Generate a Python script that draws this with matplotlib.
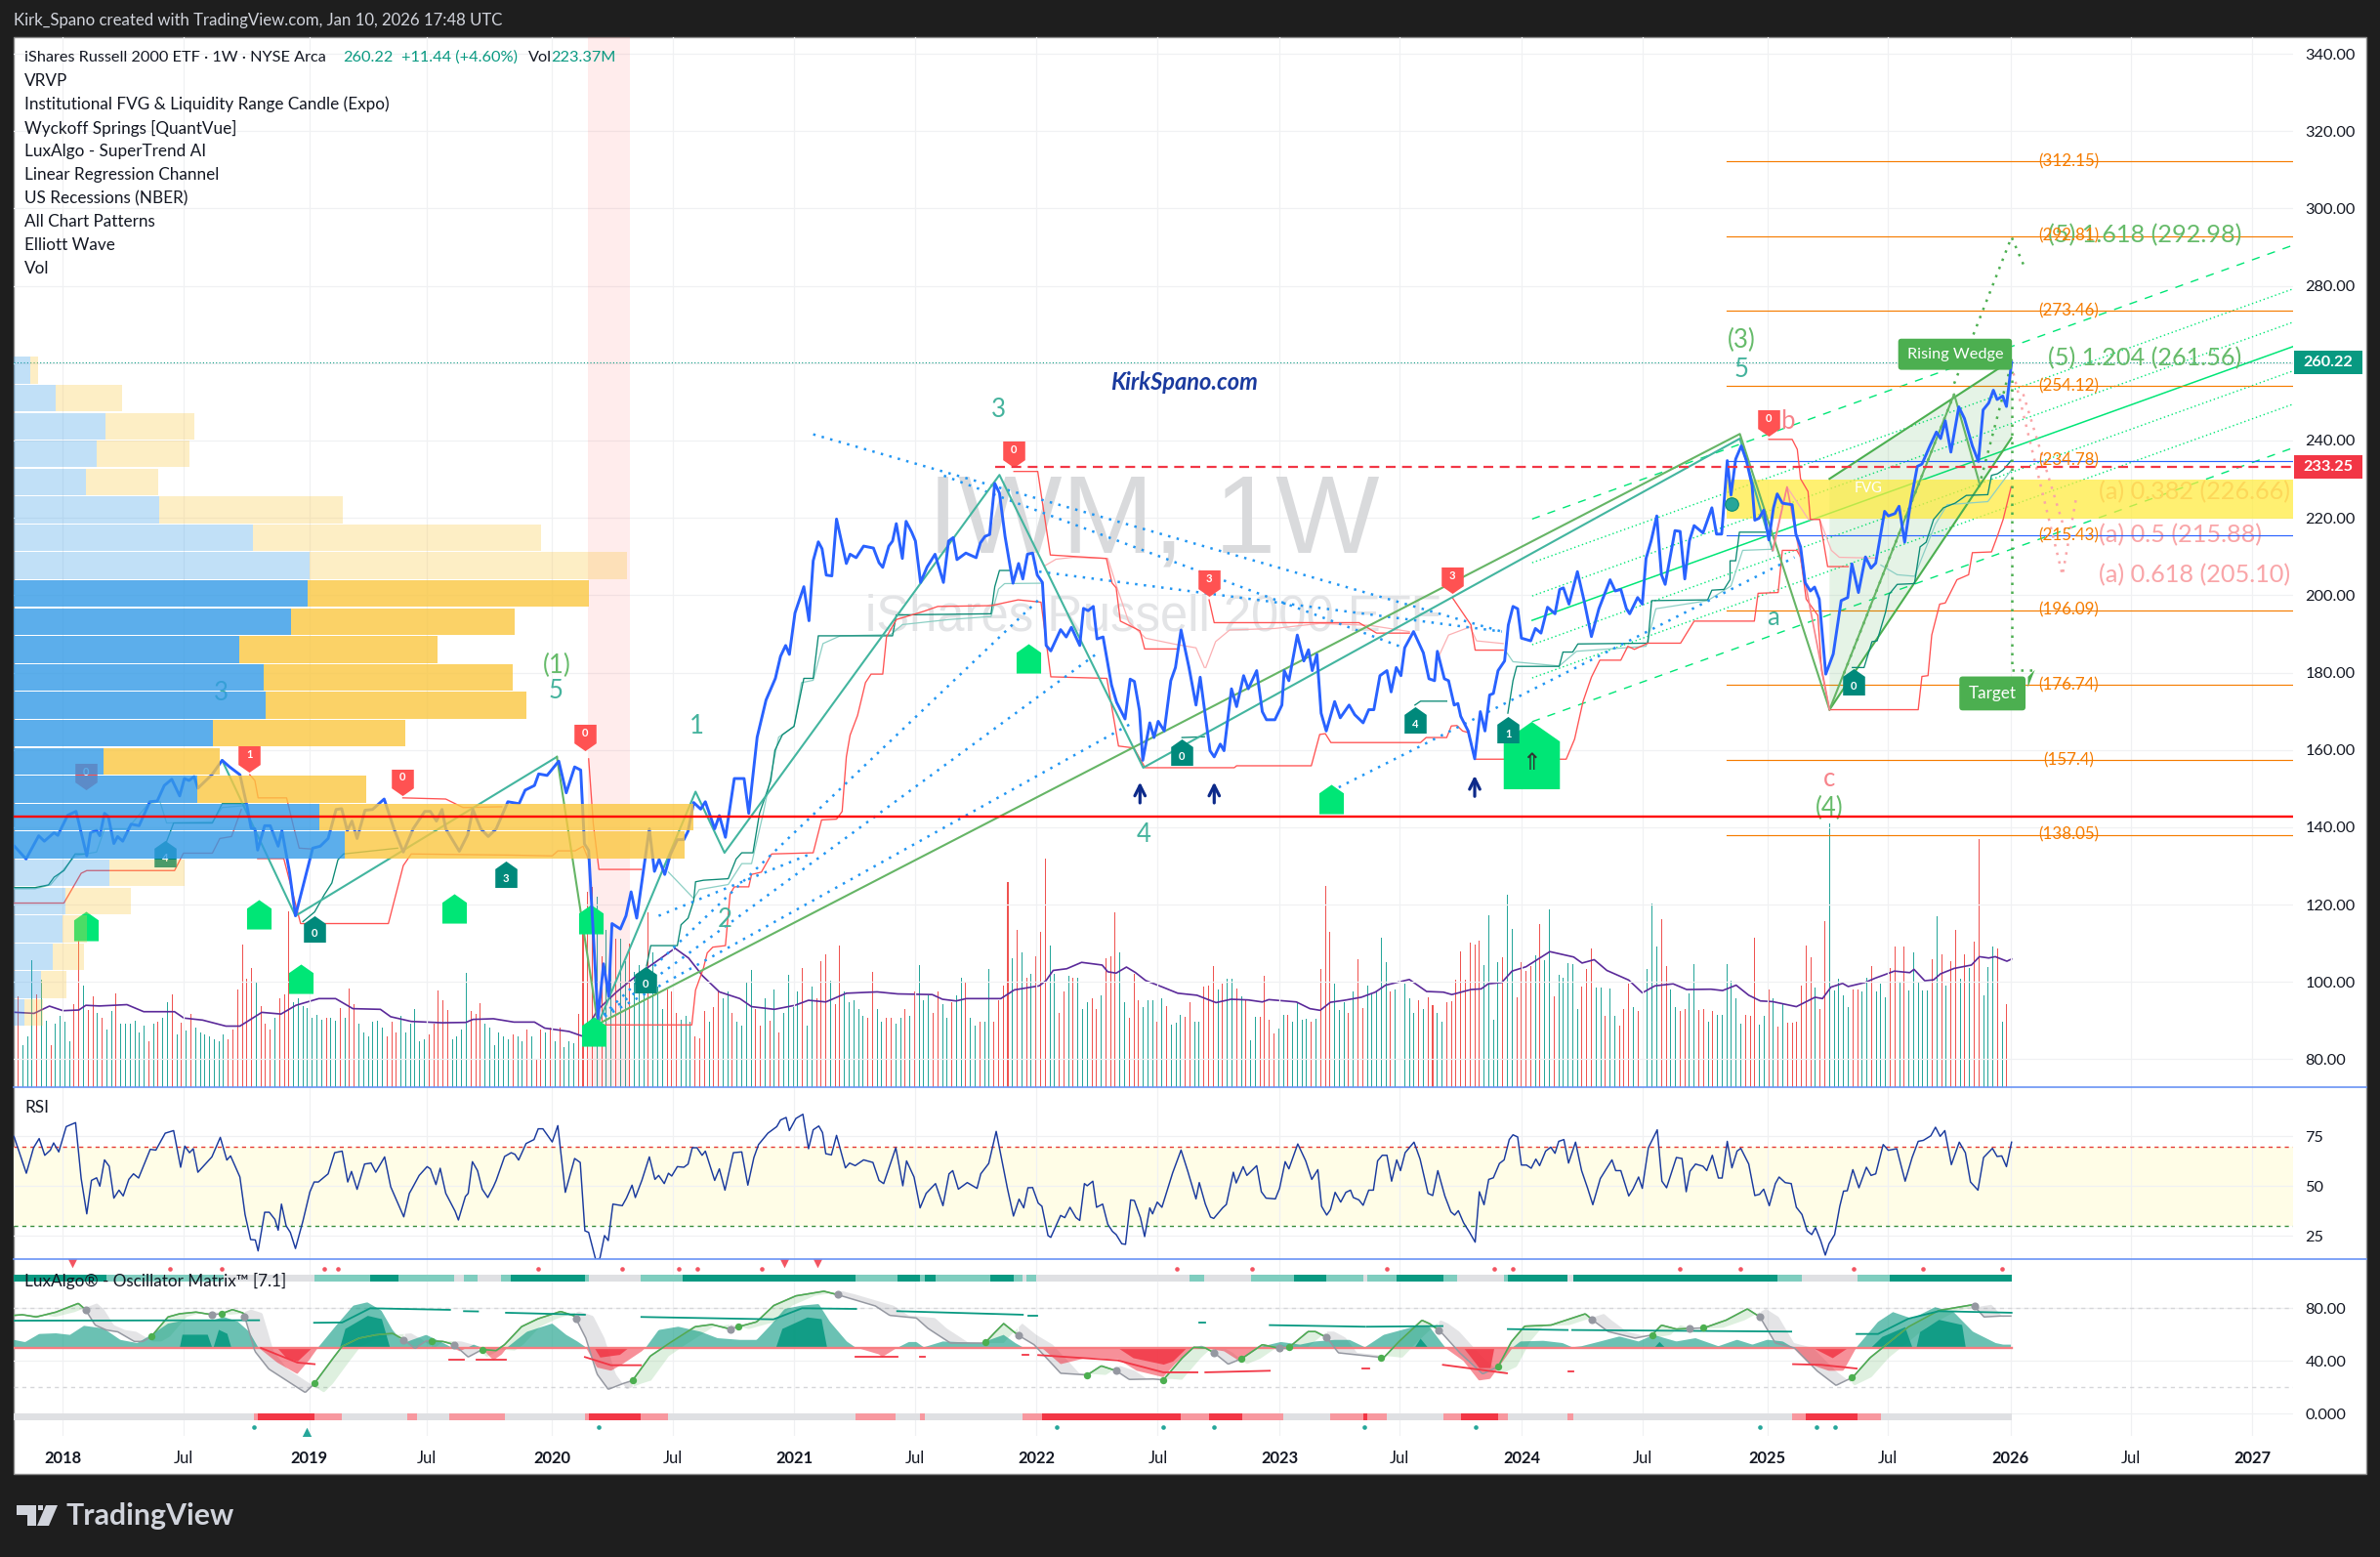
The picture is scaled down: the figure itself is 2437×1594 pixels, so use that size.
import numpy as np
import matplotlib
matplotlib.use("Agg")
import matplotlib.pyplot as plt
from matplotlib.path import Path
from matplotlib.patches import Rectangle, Polygon

plt.rcParams['font.family'] = ['Lato', 'DejaVu Sans']

W, H = 2437, 1594

# x axis is "weeks since Jan 2018"
tick_weeks = [0, 26.0, 52.9, 78.0, 104.8, 130.7, 156.7, 182.6, 208.6, 234.6, 260.7, 286.4, 312.6, 338.5, 365.2, 391.0, 417.3, 443.0, 469.0]
tick_names = ['2018', 'Jul', '2019', 'Jul', '2020', 'Jul', '2021', 'Jul', '2022', 'Jul', '2023', 'Jul', '2024', 'Jul', '2025', 'Jul', '2026', 'Jul', '2027']
price_ticks = list(range(80, 341, 20))

# weekly close (week, price)
price_points = [(-10.3,135.1),(-7.8,131.8),(-5.1,137.8),(-3.9,136.4),(-1.8,138.6),(-1,137.9),(1.1,143.1),(2.9,144.1),(5.2,132.6),(6,138.6),
(7.3,139.2),(8,137.8),(9,143.6),(9.8,142.8),(11,135.8),(11.8,137.6),(12.9,136.4),(14.7,140.8),(16.4,140.4),(18.7,146.6),(20.3,146.8),
(21.8,150.8),(23.4,152.4),(25.1,148.1),(26.1,152.6),(27.1,152.1),(28.2,153.1),(29,150.1),(32,153.6),(34.2,157.3),(35.8,155.6),(38,153.6),
(39.5,145.6),(40.4,139.8),(41.2,139.6),(41.8,134.1),(43.3,140.4),(44.5,140.4),(46.2,135.1),(47,139.1),(48.6,128.6),(49.9,117.1),(53.6,134.6),
(55.2,135.1),(56.9,137.1),(58.6,144.6),(59.8,144.8),(61,139.1),(62,141.6),(63.1,137.1),(64.8,144.4),(66.4,144.6),(68.9,147.3),(71,139.6),
(73,133.6),(75.1,139.6),(77.6,144.1),(78.8,144.1),(80.1,141.6),(81.3,144.6),(82.1,139.6),(85,133.8),(86.8,138.1),(87.9,144.6),(89.6,139.6),
(91.2,137.6),(92.9,139.6),(95.4,146.6),(97.8,146.1),(99.1,149.6),(101.1,150.8),(102,153.8),(103.8,153.4),(106.3,157.1),(107.9,148.9),(109.7,155.6),
(111,154.8),(111.8,135.7),(112.7,134),(114.7,90.6),(115.9,104.7),(117,96.3),(117.7,115.1),(119.5,113.7),(120.7,117.1),(121.8,123.3),(123,116.5),
(124.4,128.4),(125.7,139.6),(126.8,128.6),(127.8,131.7),(129,127.8),(130.2,132.9),(131.7,136.8),(133.1,136.8),(134,139),(135.2,146.4),(136.7,144.7),
(137.7,146.6),(139.7,139.6),(140.7,143),(142,137.4),(143.9,152.6),(146,152.6),(147,143.6),(148.8,163.3),(150.7,172.9),(152.7,178.5),(153.8,184.2),
(154.9,187),(155.7,184.7),(156.9,195.4),(158.8,202.2),(159.9,193.4),(160.8,208.9),(161.9,213.8),(162.7,212),(163.6,205.2),(164.8,205),(165.8,219.7),
(167.9,208.2),(168.7,210.6),(170,209.7),(171.6,212.7),(173.7,212.2),(174.9,208.4),(175.7,207.2),(177,212.7),(177.8,214),(178.6,218.5),(179.9,209.5),
(180.7,219.1),(181.9,216.3),(182.7,214),(183.8,203.3),(185.2,207.3),(186.9,210.6),(188.7,203.3),(189.8,214),(190.8,214.9),(191.6,209.2),(193.5,210.9),
(195.7,209.7),(196.6,213.5),(197.6,215.2),(198.6,215.7),(199.7,228.9),(200.7,226.4),(201.9,215.2),(203.6,203.1),(204.8,208.2),(205.7,204.2),(206.7,210.6),
(207.8,210.9),(208.8,205.2),(209.9,203.3),(210.7,187),(211.7,185.6),(213.8,191.1),(215,189.2),(216.1,191.7),(217.9,187),(218.7,196.6),(219.7,196),
(220.8,197.1),(221.6,188.7),(222.9,189.2),(224.7,176.8),(225.8,172.3),(227.6,168),(228.7,178.3),(229.6,177.7),(230.7,170.1),(231.4,157.3),(232.9,167),
(233.8,163.2),(234.7,167.4),(236,164.9),(237.4,177.9),(238.4,181.3),(239.6,191),(241.3,181.3),(242.8,171.6),(243.7,178.8),(245.8,159.8),(246.7,158.2),
(248,161.5),(248.8,159.8),(250.4,175.8),(251.5,171.2),(253,179.2),(254,175.8),(255.8,180.5),(257,169.9),(257.9,167.8),(259.7,167.8),(261.2,171.6),
(261.7,180.5),(262.7,177.9),(264.5,189.7),(265.9,183),(266.9,185.9),(267.7,180.5),(268.7,184.7),(269.6,169.5),(270.7,164.9),(272.5,172.5),(273.7,168.3),
(275.6,171.6),(276.8,169.1),(278.6,167),(279.8,170.4),(280.9,170.4),(282.2,179.2),(283.7,180.5),(284.6,175),(285.7,181.3),(286.7,179.2),(287.5,186.4),
(289.4,190.6),(291.5,185.1),(292.7,178.4),(293.9,177.9),(294.5,185.5),(296,178.4),(296.9,177.9),(298.1,171.6),(298.9,172),(299.5,168.7),(301.1,164.9),
(302.5,157.7),(303.7,169.9),(304.7,164.9),(305.7,174.2),(306.5,174.6),(307.5,180.5),(308.9,183),(309.7,192.3),(310.7,197.1),(311.7,196.5),(312.5,188.9),
(314.5,188.2),(315.5,191.4),(316.7,190.2),(318.1,196.9),(319.7,195.2),(320.7,201.5),(321.5,201.9),(322.7,197.7),(324.5,206.1),(326,198.2),(327.5,189.3),
(329.1,196.5),(331.5,204),(332.6,201.1),(333.8,201.5),(335,196.5),(335.7,195.2),(337.4,199.4),(338.4,197.7),(339.2,209.5),(340.3,214.1),(341.5,220.5),
(342.5,205.3),(343.3,202.8),(345.4,216.7),(346.5,216.5),(347.5,204.2),(348.5,214.1),(349.5,218),(351.4,216.1),(353.3,222.6),(354.3,215.8),(355.4,215.8),
(356.6,234.8),(357.4,225.9),(358.4,235.2),(359.6,238.6),(360.7,234.8),(361.9,228.5),(362.5,219.4),(363.4,219.9),(364.4,222),(365.5,214.3),(366.5,222.6),
(367.3,226.2),(368.4,223.8),(370.5,223.4),(371.3,215.8),(372.3,212.5),(373.3,203.2),(374.4,201.1),(375.3,202.1),(376.3,199),(377.7,179.6),(379.3,184.8),
(381,198.6),(382.4,199.4),(383.3,208.1),(384.7,200.7),(386.2,209.9),(387.4,207),(388.4,208.3),(390.3,221.7),(391.1,220.5),(392.5,221.1),(393.4,223),
(394.6,213.7),(395.9,224.2),(397.3,233.3),(398.3,233.9),(400,238.6),(401.4,242.2),(402.3,240.5),(403.3,245.1),(404.5,237),(406.2,248.7),(407.4,245.7),
(409.1,238.6),(410.4,234.6),(411.4,247.9),(412.6,249.7),(413.6,253),(414.4,250.6),(415.6,251.5),(416.4,248.8),(417.5,260.22)]

# weekly volume in millions, negative = down week (red)
signed_volume = [-109,-135,-135,63,75,189,-138,160,99,-62,95,107,98,69,-124,-219,151,-115,-135,111,-104,86,114,-140,95,95,95,99,82,92,-69,95,-98,104,126,-138,79,-96,84,-109,89,81,78,75,72,69,79,-72,-86,-146,-213,-161,-177,156,-121,-95,-86,104,-132,-138,-262,127,132,121,118,104,108,101,-104,104,99,-118,103,-147,-124,95,81,75,98,99,89,-75,-98,-81,107,81,95,116,69,72,-78,-95,-144,-130,-115,72,75,86,170,-114,-109,-125,95,89,63,81,75,72,-78,75,69,-86,75,-41,-86,81,-89,69,-89,60,69,66,-109,-262,-291,
-299,284,-195,234,201,-221,222,188,-214,172,182,169,-261,201,150,117,-146,-143,-110,101,107,98,-75,-73,-114,98,-120,-144,133,143,-110,98,91,156,174,-117,-91,133,-99,145,-81,110,167,120,143,-177,91,150,-133,-188,-198,159,-124,-211,143,127,130,117,107,-104,-172,117,98,-104,-104,94,104,-117,107,-143,182,130,137,-110,-143,124,104,-127,137,163,-156,104,91,-98,98,176,-98,-130,-151,-306,192,-234,201,-163,169,-195,-231,-341,211,169,-110,-143,166,-163,163,117,127,-133,-117,137,-192,-195,-260,201,127,-104,-169,-130,120,
129,129,-98,133,-121,93,96,108,-105,-126,97,98,-150,-152,-181,146,-154,162,161,-147,135,-129,70,105,-105,-166,-101,-80,87,108,-108,98,125,101,102,-98,102,-176,-300,-232,155,115,126,-111,143,-190,-118,151,139,144,223,187,-143,146,-110,154,133,110,-130,116,-134,-122,110,98,-127,-128,-160,-203,-160,-216,-212,-219,182,256,101,187,-194,287,236,-134,-187,-173,-180,196,-243,189,265,-135,168,163,185,184,116,-150,-176,-206,149,149,-106,147,106,-92,-117,-155,119,-113,74,176,274,210,-251,-181,145,119,-113,-116,140,184,-115,-117,97,-113,108,108,184,158,132,94,-108,-107,-223,93,107,-146,133,-90,125,-96,-96,-97,-152,-211,-194,148,-116,-248,393,144,161,137,120,-145,-146,143,163,-181,143,154,134,-177,-210,156,-210,144,201,156,144,144,-191,255,-198,151,-188,-235,162,-198,178,-217,-370,137,179,210,-207,97,-124,223]

# 20 week volume average
vol_ma_points = [(-10.2,111.6),(-6.1,110),(-2.8,120.8),(.1,114),(3.5,115),(5,122),(7.9,121),(13.8,123),(17.4,112.5),(24,112.5),(26,103),(30,100),(35,91),(38,91),(42.7,111.5),(46.8,109),(50,122),(54.9,132),(58.5,132),(62.2,117),(68.1,116),(70.3,105),(74.7,98),(81.3,96),(86.4,96.5),(87.9,101),(92.3,102),(96.7,97),(101.1,97),(103.3,88),(108.5,83),(111.4,76),(114.6,115),(118.7,142),(122.4,163),(125.3,178),(131.2,207),(134.1,192.5),(137.1,166),(140.7,142),(145.1,132),(147.6,120),(152.5,116),(156.9,122),(159.8,129.5),(163.5,127),(167.9,140),(174.5,142),(178.9,139),(186.3,138),(188.5,131),(191.4,128.5),(193.6,132),(201,132),(203.9,145),(209.2,151),(210.7,159),(212.2,174),(215.1,176.5),(218.3,186),(222.7,182),(223.9,172),(225.7,170),(227.9,179),(229.8,171),(232,159),(235.7,149),(238.9,140),(243,137),(247.1,126),(250.3,131),(254,130),(257,127),(258.4,130.5),(264.3,127),(267.2,117),(269.4,114.5),(271.6,126.5),(274.6,129.5),(278.2,134),(281.2,141.6),(283.4,152),(288.5,160.5),(292.2,142.6),(295.8,141.6),(297.6,138),(301.7,145.5),(303.9,146.5),(305.4,154),(308.3,156),(310.5,173),(313.5,179.5),(318.6,202),(323.7,194),(325.5,185),(328.1,190),(330.8,174),(335.5,159.6),(338.4,140.6),(341.1,151),(345,154),(347.9,145.5),(353.1,146),(355.6,144),(358.5,152),(361.2,137),(363.7,128.5),(366.3,127.5),(371.4,120),(375.4,134),(377,132),(378.8,149),(381.3,154.7),(382.5,150),(386.1,156),(388.3,162.5),(392.4,173),(395.7,170.7),(396.6,175.6),(398.9,158.6),(400.8,160),(402.3,169),(405.2,177),(408.9,182),(410.6,194.5),(412.6,192.5),(414,194.5),(416.5,187.7),(417.5,191)]

# volume profile rows, top to bottom
vp_up = [3.6,9,19.7,17.8,15.5,31.2,51.3,63.4,63,59.4,48.3,53.6,54,42.7,19.2,39.3,65.5,71,20.5,11.1,10.5,8.4,5.8,2.3]
vp_down = [1.7,14.2,19,19.9,15.5,39.2,61.7,68,60.2,48,42.5,53.3,55.9,41.2,25,36.2,80,72.8,16.1,14,5.2,6.7,5.5,3.9]
vp_top_price = 258.18
vp_step = 7.222
vp_value_area = (8, 17)

fib_levels = [312.15, 292.81, 273.46, 254.12, 196.09, 176.74, 157.4, 138.05]
fib_blue_levels = [234.78, 215.43]
fib_label_names = ['(312.15)', '(292.81)', '(273.46)', '(254.12)', '(196.09)', '(176.74)', '(157.4)', '(138.05)']

support_red = [
    [(-10.3,120.4),(.3,120.4),(4,128.1),(5.2,128.8),(24,128.8),(25.9,133.3),(32.1,133.3),(33.7,137.1),(36.2,137.6),(38.3,144.6)],
    [(41.8,131.9),(47.4,131.9),(51,115.1),(69.8,115.1),(73,130.1),(74.7,133.1),(96.2,132.8),(104.9,132.6),(106.1,133.9),(109.8,133.9),(111.5,135.1),(112.7,131.6)],
    [(114.9,88.9),(134.8,88.9),(135.6,97.9),(137.3,103.6),(138.1,107.5),(139.3,109),(142,109.4),(143,122.7),(143.9,124.6),(147,124.6),(147.6,127.8),(149.7,128.4),(151.9,133.1),(160.8,133.4),(162.6,141.9),(165.8,142.1),(167,144.1),(167.9,158.2),(168.7,163.8),(170.3,168.9),(172,177.4),(173.2,179.6),(175.7,179.6),(176.5,189.2),(178.6,193.7),(184.4,195.8),(187.5,197.1),(198.9,197.3),(204.7,198.8),(209.6,198.2),(211.7,178.9),(223.7,178.5),(226.2,161),(229.5,160.5),(231.9,155.4),(251,155.4),(251.5,155.9),(267.5,155.9),(269.3,164),(270.5,164.2),(271.7,161.9),(290.9,161.9),(292.1,163.2),(296.5,163.2),(297.5,166.2),(298.7,166.3),(299.9,164.9),(301.1,164.5),(302.5,157.6),(322.1,157.6),(323.9,162.8),(325.7,172.5),(327.5,178.8),(329.3,183.2),(333.8,183.2),(335.3,186.8),(336.7,186),(339.6,187.6),(346.6,187.6),(349.5,193.3),(362.4,193.3),(363.2,200.5),(367.5,200.7),(368.4,211.6),(371.5,211.6),(372.3,209.9),(373.5,199),(376,194.8),(376.8,180.5),(378.5,170.4),(397.5,170.4),(398.3,179),(399.6,179.2),(400.4,189.7),(402.1,197.7),(403.3,198),(405.8,204),(408.3,205.3),(409.1,211),(413.2,211.2),(414.5,215.4),(415.7,219.6),(417.4,228)],
]
resist_red = [
    [(40.1,153.6),(41.2,152.1),(41.9,147.6),(48,147.6),(49.5,140.1),(50.7,134.6),(53.2,134.4)],
    [(72.9,147.6),(82.1,147.3),(85.8,145.1),(94.1,145.3)],
    [(112.7,157.7),(113.7,140.8),(114.9,129.1),(124,129.1)],
    [(203.8,232),(208.9,232),(211.6,210.4),(223.6,209.5),(224.8,203.2),(225.7,201.9),(226.6,193.3),(230.8,190.8),(231.8,186.1),(238.9,186.1)],
    [(245.6,198.8),(246.7,192.9),(277.7,192.9),(281.5,190.2),(288.5,190.2)],
    [(297.7,199.4),(301.7,192.3),(302.6,185.8),(308.6,185.8)],
    [(365.5,240.3),(370.5,240.3),(371.6,237.7),(372.3,230.1),(373.9,226.8),(374.4,219.6),(376.4,219.6),(378.1,207.4),(382.5,207.4)],
]
pale_red = [
    [(210.4,207.6),(212.8,209.3),(216.4,209.8),(223.9,209.5),(226,201.5),(228.4,193.1),(232,188.9),(238,187.4),(242.8,186.4),(244.6,181.3)],
    [(244.9,181.3),(247,188),(250,191),(259.7,191.4),(269.3,192.7),(280,192.2),(288.5,190.6)],
    [(294.5,183.4),(296.9,189.7),(301.5,191.8),(302.9,188.2),(308.6,187.5)],
    [(366.5,211.6),(369.4,228),(374,219.6),(376.4,219.6),(378.9,211.6),(380.6,209.8),(388.4,209.6)],
]
support_teal = [
    [(-10.3,124.4),(-5.9,124.4),(-3,125.1),(-1.8,127.1),(.3,128.8),(2.7,133.1),(5.2,133.1)],
    [(22.2,136),(23.8,141.1),(32.1,141.1),(34.2,146.1),(39.1,146.1)],
    [(51.5,115.6),(54,118.1),(56.1,122.6),(57.7,125.6),(59,131.6),(60.2,133.1),(71.8,134.6)],
    [(125.1,104.1),(126,109.4),(131.7,109.4),(132.5,114.8),(134,116.5),(135.2,121),(135.6,125.9),(137.3,126.3),(142.6,126.7),(144.3,131.8),(145.5,133.4),(147.9,133.4),(149.3,143.6),(151.7,152),(152.6,159.9),(154.2,163.9),(156.7,166.1),(158.8,178.5),(160.8,178.5),(161.9,189.5),(177.8,189.5),(178.6,194.9),(198.9,195.2),(199.7,202.2),(200.7,206.4),(203,206.4)],
    [(239.8,163.2),(244.6,163.4)],
    [(289.7,171.6),(290.9,172.6),(296.5,172.6)],
    [(309.6,169.5),(310.7,177.9),(311.5,181.6),(320.6,181.6),(321.4,185.3),(323.5,185.3),(324.6,187.4),(339.6,187.6),(340.4,198.6),(352.4,198.8),(353.3,201.3),(355.9,201.5),(357.2,204),(357.2,208.9),(358.4,208.9),(359.2,216.3),(364.7,216.3)],
    [(383.4,181.3),(385.9,181.3),(387.6,188),(388.7,188.2),(390.5,195.6),(391.3,200.3),(393,202.8),(396.7,203),(397.9,212.5),(399.2,213.7),(400.8,219.6),(402.9,222.6),(405.4,223.8),(407.8,225.8),(412.4,226),(413.2,231),(414.5,231.4),(415.7,232.4),(417.4,234.8)],
]
pale_teal = [
    [(-10.3,124.1),(-5.9,124.1),(-2.6,125.1),(2.7,132.6),(7.3,133.6),(9,139.6),(13.9,139.6),(18.4,146.1),(20.9,146.6),(22.3,141.1),(32.1,141.4),(34.2,145.1),(39.1,145.6)],
    [(129.8,128.4),(135.2,121.6),(136.4,123.9),(142.6,125.2),(145.5,130.6),(147.6,130.6),(150.1,143.6),(153.4,163.3),(156.7,166.1),(158.3,177.4),(160.8,178),(162.9,187.5),(166.6,189.5),(177.4,189.8),(179.9,192.4),(189.8,193.7),(198.9,194.5),(200.5,201.6),(201.8,203),(209.6,203.1)],
    [(309.4,185.1),(310.7,182.8),(320.6,181.7),(324.3,185.5),(339.2,186.8),(341.3,196.5),(352.4,198.6),(357.4,202.4),(359.9,211.6),(366.5,211.9)],
    [(389.5,207.8),(393,205.3),(396.7,204.9),(401.2,218.4),(403.7,223.4),(412.4,224.2),(417.4,232.3)],
]

# pattern and wave lines
wave_teal = [[(34.2,157.3),(49.9,117.1),(105.9,158.2)],
             [(114.7,89.1),(135.6,149.2),(141.8,133.4),(200.7,231.1),(231.5,155.4),(359.3,240.5),(366.3,211.6)]]
wave_green = [[(105.9,158.2),(114.7,89.1),(359.3,241.7),(378.5,170.4),(405.2,252),(410.6,229)]]
wave_pink = [[(366.3,211.6),(369.4,228),(378.5,170.4)]]
wedge_upper = [(378.5,230.1),(417.5,260.8)]
wedge_lower = [(378.5,170.4),(417.5,240.7)]
blue_dots = [[(160.8,241.6),(308.3,190.6)],[(188.8,230.9),(287.3,186.4)],[(209.2,206.1),(308.3,190.6)],
             [(114.5,90),(209.6,199.4)],[(114.5,90),(222,185.3)],[(114.5,90),(229.5,167.2)],[(127.7,117.1),(160.8,133.4)],
             [(271.7,149.3),(371,209.8)]]
green_dots = [[(381.6,179.8),(405.2,252)],[(410.5,228),(417.5,260.1)],[(405.2,254.7),(417.5,292.6),(420.5,284.2)],
              [(417.5,258),(417.5,180.7),(422.5,180.7)]]
pink_dots = [[(417.9,257.4),(428.4,205.2),(431.3,224.9)],[(420,252),(428.9,216.8)]]
channel_start = 314.8
channel_end = 477.8
channel_mid_start = 193.5
channel_mid_end = 264.3
channel_offsets = [26.2, 14.9, 6.3, -6.3, -14.9, -26.2]

red_tags = [(40,157.7,'1'),(72.8,151.7,'0'),(112,163.2,'0'),(203.8,236.5,'0'),(245.6,203.1,'3'),(297.6,203.9,'3'),(365.5,244.5,'0'),(5,153.1,'0')]
teal_tags = [(22,133.2,'4'),(54,113.7,'0'),(95,127.9,'3'),(124.9,100.6,'0'),(239.7,159.4,'0'),(289.7,167.8,'4'),(309.7,165.3,'1'),(383.6,177.6,'0')]
green_houses = [(5.1,114.5),(42,117.5),(51,100.9),(83.9,119),(113.2,116.3),(113.8,87.3),(206.8,183.7),(271.7,147.4)]
spring_weeks = [230.8, 246.7, 302.5]
spring_prices = [148.9, 148.9, 150.6]

wave_labels = [(106,181.9,'(1)','#66bb6a'),(105.7,175.1,'5','#45b39d'),(33.9,174.7,'3','#45b39d'),(135.8,166.1,'1','#45b39d'),
               (141.8,116,'2','#45b39d'),(200.5,247.9,'3','#45b39d'),(231.6,138,'4','#45b39d'),(359.6,265.8,'(3)','#66bb6a'),
               (359.7,258.4,'5','#45b39d'),(369.5,244.8,'b','#f7838a'),(366.3,194.1,'a','#45b39d'),(378.4,152.6,'c','#f7838a'),(378.4,145,'(4)','#66bb6a')]
fib_wave_labels = [(425.3,293,'(5) 1.618 (292.98)','#66bb6a'),(425.3,261.2,'(5) 1.204 (261.56)','#66bb6a'),
                   (436.2,226.6,'(a) 0.382 (226.66)','#f9a5a8'),(436.2,215.5,'(a) 0.5 (215.88)','#f9a5a8'),(436.2,205.2,'(a) 0.618 (205.10)','#f9a5a8')]

rsi_points = [(-10.4,75),(-7.75,56.5),(-6.2,69.3),(-5,73.9),(-3.8,65.5),(-2.6,68.1),(-1.9,71.7),(-.8,67.2),(.8,79.9),(2.8,81.9),(4,53.8),(5.2,36.1),(6.2,52.9),(7.3,54.2),(8,50),(9,63.2),(10,60),(11,44),(12.1,48),(13,45.1),(14.2,53.4),(15.2,56.2),(16.3,54.1),(18.8,68.5),(20,68.1),(22,76.6),(23.8,77.9),(25.3,59.5),(26.2,70.1),(27.2,66.8),(28,68.8),(29,57),(32,64.7),(33.8,74.5),(35.2,63.1),(36,65.2),(38,54.6),(39.1,35.8),(40.3,23.2),(41.3,23),(41.9,17.5),(43.3,36.9),(44.3,36.9),(45.5,33.3),(46.2,27.9),(46.9,41),(47.9,30.1),(48.8,26.8),(49.9,18.7),(51.5,32.5),(53,47.2),(53.9,52.1),(54.8,52.1),(56.9,56.2),(58.3,66.8),(59.9,67.6),(61.1,52.1),(61.9,57.4),(63.1,48.4),(64.7,61.1),(66.1,61.6),(67.1,57),(69,64.7),(70.3,49.7),(73.1,34.6),(74.3,46.4),(74.9,48.9),(76.4,55.4),(78.1,59.8),(78.8,58.7),(80,50.8),(80.9,59),(82.1,46.4),(84.1,37.4),(84.8,33),(86.3,44.8),(86.9,46.4),(87.8,62.3),(88.9,57.8),(89.9,48.5),(91.1,44.3),(92.3,49.7),(92.9,52.9),(94.7,64.9),(96.1,66.8),(96.9,66),(97.7,63.1),(99.3,71.4),(101,73.4),(101.9,78.8),(102.9,78.8),(104.9,72.2),(106.1,80.4),(107.7,46.9),(109.7,63.9),(110.9,61.9),(111.9,27.6),(112.7,26.8),(114.2,13.2),(115.1,13.7),(116.1,25.2),(116.9,22.7),(117.9,41),(119.9,40.2),(120.8,44),(122,50.5),(122.7,44.3),(124.1,52.9),(125.7,64.7),(126.9,53.4),(127.7,55.4),(128.9,51.3),(129.8,56.5),(130.5,55.1),(131.7,59.8),(133.1,59.5),(134,61.1),(134.9,69.3),(135.9,69.3),(137,65.5),(137.7,67.6),(139.7,52.9),(140.7,58.7),(141.9,48),(143.7,66.8),(145.5,67.2),(146.8,50.5),(148.1,64.4),(149.1,70.9),(151.1,76.6),(153,79.9),(153.8,83.2),(155,84.5),(155.7,77.9),(157.1,84),(158.6,86.1),(159.8,68.8),(160.8,78.3),(162,80.2),(162.8,76.9),(163.5,66.3),(164.7,65.7),(165.8,75.5),(167.7,59.2),(168.6,61.6),(169.8,60.3),(171.6,63.2),(173.6,61.9),(174.9,52.9),
(175.9,51.3),(177.2,60.3),(178.5,69.3),(180,50.2),(180.8,62.7),(182.4,54.6),(183.7,39.1),(185,46.4),(187,51.3),(188.6,40.2),(189.9,56.2),(190.7,57.8),(191.9,48.5),(193.8,51.8),(195.9,48.9),(196.7,56.2),(198.4,61.4),(200,77.5),(202.4,48.9),(203.7,35),(204.9,43.5),(205.9,39.1),(206.8,49.2),(207.8,49.3),(209,41.5),(209.8,39.9),(211.1,25.2),(211.7,24.3),(213.8,35.3),(214.7,34.2),(215.8,39.4),(217.1,34.2),(217.9,32.8),(218.9,51.3),(219.5,50.2),(220.7,52.5),(221.5,39.4),(222.8,41),(223.9,30.9),(224.9,27.3),(225.7,25.7),(226.9,21.1),(227.7,20.8),(228.8,43.1),(229.6,42.8),(230.9,34.2),(231.8,24.7),(232.9,39.1),(233.5,36.1),(234.5,42),(235.5,39.4),(237.8,56.7),(239.6,68.1),(241,57.8),(242.8,43.6),(243.5,51.8),(244.8,41),(245.9,34.5),(246.6,33.8),(248.5,39.1),(249.3,40.8),(250.8,57),(251.4,51.6),(252.9,59.8),(253.7,55.4),(255.8,60.3),(256.8,47.2),(257.8,44),(259.8,43.6),(260.7,48.9),(261.9,62.3),(262.7,58.7),(264.6,71.2),(266.3,62.7),(267.6,53.4),(268.9,58.3),(269.7,39.9),(270.8,35.5),(271.6,38.2),(272.6,46.9),(273.8,42),(274.9,46.9),(275.9,48),(276.5,44.3),(277.7,43.1),(278.6,40.4),(279.8,48),(280.8,48),(281.7,62.7),(282.7,65.5),(283.7,65.5),(284.7,52.5),(285.8,63.2),(286.6,57.8),(287.6,66.8),(289.5,72.1),(290.8,63.6),(292.5,46.4),(293.5,45.3),(294.6,57.8),(296.1,45.1),(297.4,37.1),(298.2,35.5),(299,37.7),(300.1,31.7),(301.4,26.8),(302.6,21.9),(303.5,47.2),(304.5,40.7),(305.5,53.4),(306.5,54.2),(307.8,61.4),(308.8,63.2),(309.9,73.4),(310.7,75.8),(311.7,74.7),(312.5,60.6),(313.6,60.6),(314.6,59),(315.6,63.6),(316.4,60.3),(317.7,67.6),(318.8,69.6),(319.7,66.5),(320.5,72.5),(321.6,73.4),(322.6,61.6),(324.1,72.1),(325.4,57.8),(326.7,48.9),(327.8,40.7),(329.4,53.8),(331.9,63.2),(332.7,57.8),(333.8,57.8),(335.5,45.1),(336.4,48.5),(337.6,54.6),(338.4,48.9),(339.7,69.3),(341.6,78.3),(342.6,52.5),(343.6,49.2),(345.7,64.4),(346.9,63.9),(347.8,47.2),(348.6,57.4),(349.8,61.1),(351.4,60),(352.2,57.8),(353.4,65.5),(354.7,54.1),(355.5,54.1),(356.6,72.5),(357.6,59.2),(358.7,67.6),(359.5,69),(361.2,61.1),(362.5,45.3),(363.5,45.9),(364.4,48.5),(365.6,40.2),(366.9,51.3),(367.7,54.6),(369,51.8),(370.3,51.3),(371.4,39.4),(372.6,35.8),(373.7,27.6),(374.7,25.7),(375.5,29.2),(376.6,22.7),(377.6,15.4),(378.4,21.1),(379.6,25.7),(380.7,39.9),(381.5,47.5),(382.3,47.7),(383.5,58.3),(384.8,49.2),(386.4,59.5),(387.4,55.4),(388.4,56.2),(390,70.9),(391.1,68),(392.9,68.8),(394.7,52.5),(396.2,64.4),(397.5,72.5),(398.6,73),(400.2,75.3),(401.2,79.6),(402.2,75),(403.2,77.9),(404.6,60.8),(406.3,72.1),(407.6,66.8),(408.7,52.1),(410.3,48),(411.5,64.4),(413.4,69),(414.4,64.9),(415.4,65.2),(416.4,59.8),(417.5,72.1)]

# oscillator matrix
money_flow = [(-10.4,56),(-8,54.3),(-5,60.5),(-1.4,61),(1.6,59.8),(4.6,66.7),(8.8,64.7),(12.4,56),(16,53.6),(19,59.8),(22.6,68.4),(26.2,70.9),(32.2,70.9),(34.6,73.4),(37.6,69.7),(40,62.2),(41.9,50.4),(46,38.8),(50.3,30.1),(52.7,40),(54.8,50.4),(58.7,67.2),(62.3,82),(65.3,84.5),(68.3,78.3),(70.7,63.5),(73.1,53.6),(74.9,56),(77.9,59.8),(80.9,54.8),(83.3,50.4),(85.1,47.4),(86.9,50.4),(88.1,52.4),(89.6,50.4),(92.3,40.5),(94.1,45),(95.3,50.4),(99.5,62.2),(104.9,68.4),(107.9,59.8),(110.3,54.8),(112.1,50.4),(114.5,35.1),(117.5,32.6),(119.9,37.5),(124.1,47.4),(125,50.4),(127.7,63.5),(131.9,66),(136.7,62.2),(140.3,57.3),(145.1,56),(148.7,56),(151.7,67.2),(154.7,79.5),(158.3,82),(162,83.2),(164.4,69.7),(168,54.8),(169.8,50.4),(174.9,45),(175.6,43),(178.5,49.4),(181.3,54.4),(182.9,54.4),(184.5,50.4),(188.6,54.8),(196.7,53.6),(201.6,59.8),(204.1,53.6),(205.7,50.4),(209.8,49.9),(213.8,37.6),(219.5,42.5),(226.1,41.3),(230.1,32.6),(235.8,27.7),(238.3,37.6),(242.3,50.4),(244,51.6),(246.4,48.7),(248.8,47.4),(252.1,40),(256.2,50.4),(261,54.4),(265.1,52.4),(268.4,54.8),(272.5,56),(275.7,56),(279,50.4),(283,59.8),(289.5,66),(292.8,66),(295.2,54.8),(296.4,49.4),(300.1,40),(303.4,25.2),(305.8,26.4),(309.1,42.5),(310.7,50.4),(312.3,54.8),(317.2,55.3),(321.3,53.6),(323.4,50.4),(325.4,51.2),(329.4,54.8),(333.5,58.6),(337.6,54.8),(340.8,59.8),(345.7,54.8),(349.8,57.3),(354.7,51.2),(358.7,56.1),(362,52.4),(365.2,56.1),(368.5,54.8),(370.6,50.4),(374.2,37.6),(378.3,32.6),(381.5,32.6),(384.3,50.4),(388.9,69.7),(392.1,77.1),(396.2,72.1),(401.1,80.8),(405.1,77.1),(409.2,62.3),(414.1,53.6),(415.7,52.4),(417.5,52.4)]
strong_up = [[(25,50),(25.6,60.3),(31,60.3),(32,50)],[(32.2,50),(33.4,64),(35.2,61),(36.1,50)],[(59.3,50),(60.5,64.7),(65.3,74.6),(68.3,72.1),(70.1,50)],[(152.7,50),(154.1,64.7),(159.5,73.4),(162.5,72.1),(163.7,50)],[(289.5,50),(290.8,57.3),(292.5,50)],[(340.8,50),(342,54.8),(343.3,50)],[(387.2,50),(389.7,58.6),(394.6,66),(396.2,50)],[(397,50),(397.8,62.3),(401.9,71.6),(406.8,67.7),(407.6,50)]]
strong_down = [[(46,50),(47.9,42.5),(50.3,40),(53.3,50)],[(113.9,50),(115.1,43),(119.3,45),(121.1,50)],[(226.1,50),(229.3,42.5),(235.8,37.6),(237.8,40),(240.7,50)],[(300.1,50),(303.4,35),(305.8,35),(306.6,50)],[(375,50),(379.1,42.5),(382.3,50)]]
hyperwave = [(-10.4,74.6),(-8.6,75.1),(-5.6,73.4),(-1.4,77.1),(1.6,81.3),(3.4,83.7),(4.9,79),(7,67.2),(9.4,63.5),(11.8,62.2),(15.4,54.8),(17.2,54.8),(19,58.5),(22.6,73.4),(25,75.8),(28.6,77.1),(32,75.1),(34,75.8),(36.4,79),(38.8,76.3),(40,62.2),(41.2,47.4),(44.2,33.9),(48.5,24),(52,16.1),(53.9,22.7),(57.5,40),(59.9,51.1),(63.5,57.3),(67.1,59.8),(70.7,61),(73.1,56.1),(75.5,49.4),(77.9,55.3),(81.5,54.8),(83.9,52.4),(86.9,43),(89.9,48.7),(92.9,47.9),(94.7,52.4),(98.3,66),(101.9,72.1),(106.7,77.6),(109.7,74.1),(112.1,57.3),(114.5,30.1),(116.9,18.5),(119.9,22.7),(122.1,25.2),(125.9,43.7),(129.5,52.4),(135.5,66),(139.1,67.7),(143,64.2),(144.8,66),(148.7,69.7),(152.3,82),(157.1,89.4),(163.1,92.9),(165.9,90.4),(170.4,85.7),(174,82),(177.2,74.6),(182.9,72.6),(185.4,64.7),(190.2,53.6),(197.6,53.6),(199.2,59.8),(201.6,68.4),(204.6,59.8),(208.1,52.4),(211.4,40),(213.8,30.7),(219.5,29.4),(222.5,36.3),(225.7,32.6),(228.5,26),(233.4,26.4),(235.8,25.7),(239.9,42.5),(242.3,50.4),(244.8,49.9),(246.7,46.2),(249.7,37.6),(252.6,41.8),(257,52.4),(260.2,49.9),(262.4,49.4),(266.8,62.3),(268.4,62.3),(270.8,57.8),(273.3,46.2),(283,42.5),(286.3,54.8),(291.2,70.9),(292.8,68.4),(295.2,62.3),(299.3,46.2),(304.2,30.2),(307.5,35.6),(310.4,54.8),(313.2,66.4),(318.8,67.2),(326.2,75.8),(327.8,70.9),(331.1,62.3),(336.8,57.3),(340.5,59.8),(342.5,67.2),(345.7,64.2),(349,64.7),(351.7,65.2),(356.3,70.9),(360.9,79.5),(363.6,73.4),(366.9,53.6),(371,49.9),(375.8,32.6),(379.9,21.5),(383.5,27.7),(387.2,42.5),(395.4,65.9),(401.9,78.3),(409.2,82.7),(411.6,73.4),(414.9,74.1),(417.5,74.1)]
wave_turns_down = [5,32.1,39,73.1,83.9,110,143,166,204.7,225.7,246.6,260.7,270.7,294.8,327.6,348.6,363.6,409.5]
wave_turns_up = [19,34,54,79,90,122.1,144.8,197.7,219.5,235.8,252.6,262.7,282.5,307.5,340.5,351.4,383.3]
trend_teal = [[(-10.4,70.6),(42.1,70.9)],[(53.9,69),(59.9,69.2),(65.9,80),(83,78.8)],[(86,77.8),(89,77.6)],[(95,76.6),(111.9,75.1)],[(124,73.4),(152.3,71.6),(158.4,80),(170,79.5)],[(178.8,77.8),(205.7,75.1)],[(206.8,74.6),(208.8,74.6)],[(243.5,69),(244.8,69)],[(258.6,67.2),(279,66)],[(279.4,66),(295.6,66.5)],[(309.6,64.2),(322.4,63.5)],[(323.4,63.5),(370.3,62.3)],[(384.3,60.5),(388.9,60.5),(395.4,72.1),(401.9,77.8),(417.5,76.6)]]
trend_red = [[(42.5,49.9),(50.3,38.8),(54,37.6)],[(82.8,41.3),(86,41.3)],[(88.8,41.3),(94.9,41.3)],[(111.9,43),(117.5,36.8),(123.9,36.8)],[(169.8,43),(178.8,43)],[(183.7,43.2),(184.7,43.2)],[(205.7,44.5),(206.8,44.5)],[(209,44.5),(226,40.5),(235.8,31.4),(243.1,31.4)],[(244.8,31.4),(258.6,32.6)],[(278.5,34.6),(279.8,34.6)],[(295.7,37.1),(309.4,30.7)],[(322.6,32.4),(323.7,32.4)],[(370.7,37.6),(376.7,37.1),(384.3,34.3)]]
top_edges = [-10.4,9.4,34.6,53.9,65.9,71.9,83.9,86,89,93.9,96,111.9,112.7,123.9,132.8,169.8,178.8,183.7,184.7,187,198.7,203.7,205.7,206.5,208.6,241.5,244.6,254.5,263.7,270.7,278.6,279.4,285.8,295.7,298.8,308.8,309.6,322.4,323.7,367.4,372.6,384.5,391.3,417.5]
top_states = "dlgldlglgldlgldldldldlglglgldlgldlgldgdlgld"
bottom_edges = [-10.4,41,41.9,54,59.9,73.9,76,82.8,94.8,112,112.7,123.9,129.8,169.8,178.5,183.7,184.7,205.7,209.8,239.6,245.6,252.8,261.5,271.6,278.6,279.4,283.7,295.7,299.6,307.6,309.6,322.4,323.7,370.5,373.4,384.6,389.5,417.5]
bottom_states = "glrlglglglrlglglglrlrlglrlglrlglglrlg"
red_dot_weeks = [23.1,34.2,56.1,59,101.9,119.9,131.9,135.9,149.8,238.7,254.7,283.7,306.6,310.7,346.5,359.5,383.6,398.6,415.5]
red_tri_weeks = [2,154.6,161.7]
teal_dot_weeks = [41,114.9,212.9,235.8,246.7,278.8,302.6,363.6,375.7,379.6]
teal_tri_weeks = [52.2]

TEAL = '#089981'
RED = '#f23645'
GREEN = '#4caf50'
TEXT = '#131722'
GRID = '#f0f1f3'
ORANGE = '#f57c00'
X_MIN, X_MAX = -10.46, 477.8


def pane(x0, y0, x1, y1, z=2):
    return fig.add_axes([x0 / W, 1 - y1 / H, (x1 - x0) / W, (y1 - y0) / H], zorder=z)


def xy(points):
    a = np.array(points, dtype=float)
    return a[:, 0], a[:, 1]


def setup(ax):
    ax.set_xlim(X_MIN, X_MAX)
    ax.patch.set_alpha(0)
    for s in ax.spines.values():
        s.set_visible(False)
    ax.set_xticks(tick_weeks)
    ax.set_xticklabels([])
    ax.yaxis.tick_right()
    ax.tick_params(length=0, labelsize=11.7, labelcolor=TEXT, pad=9)
    ax.grid(True, color=GRID, lw=0.9, zorder=0)
    ax.set_axisbelow(True)


fig = plt.figure(figsize=(W / 100, H / 100), dpi=100, facecolor='#1e1e1e')

back = fig.add_axes([0, 0, 1, 1], zorder=0)
back.set_xlim(0, W)
back.set_ylim(H, 0)
back.axis('off')
back.add_patch(Rectangle((14, 38), 2409, 1471, facecolor='white', edgecolor='#8a8a8a', lw=1))

# volume pane sits under the price pane
ax_v = pane(14, 38, 2348, 1113, z=1)
setup(ax_v)
ax_v.set_ylim(0, 1565)
ax_v.set_yticks([])
ax_v.grid(False)
vol = np.array(signed_volume, dtype=float)
vol_x = 417.5 - (len(vol) - 1 - np.arange(len(vol)))
ax_v.bar(vol_x, np.abs(vol), width=0.21, color=np.where(vol < 0, '#ef5350', '#26a69a'), lw=0, snap=True, zorder=2)
vx, vy = xy(vol_ma_points)
ax_v.plot(vx, vy, color='#5b2a9a', lw=1.2, zorder=3)

ax = pane(14, 38, 2348, 1113)
setup(ax)
ax.set_ylim(72.8, 344.3)
ax.set_yticks(price_ticks)
ax.set_yticklabels([f'{v:.2f}' for v in price_ticks])
ax.axvspan(112.6, 121.5, color='#ff5252', alpha=0.11, lw=0, zorder=1)

# watermark
ax.text(1181 / W, 1 - 537 / H, 'IWM, 1W', transform=fig.transFigure, family='Liberation Sans', fontsize=81,
        color='#d9dadc', ha='center', va='center', zorder=1)
ax.text(1181 / W, 1 - 632 / H, 'iShares Russell 2000 ETF', transform=fig.transFigure, family='Liberation Sans', fontsize=36.5,
        color='#e3e4e6', ha='center', va='center', zorder=1)

# regression channel
for off in channel_offsets:
    ls = (0, (6, 6)) if abs(off) > 20 else (0, (1, 2))
    ax.plot([channel_start, channel_end], [channel_mid_start + off, channel_mid_end + off], color='#00e676', lw=1.0, ls=ls, zorder=2)
ax.plot([channel_start, channel_end], [channel_mid_start, channel_mid_end], color='#00e676', lw=1.1, zorder=2)

for level, name in zip(fib_levels, fib_label_names):
    ax.plot([356.5, X_MAX], [level, level], color=ORANGE, lw=0.85, zorder=2)
    ax.text(429.7, level, name, color=ORANGE, fontsize=12.2, ha='center', va='center', zorder=9)
for level in fib_blue_levels:
    ax.plot([356.5, X_MAX], [level, level], color='#2962ff', lw=0.85, zorder=3)
    ax.text(429.7, level, f'({level})', color=ORANGE, fontsize=12.2, ha='center', va='center', zorder=9)

ax.plot([X_MIN, X_MAX], [260.22, 260.22], color=TEAL, lw=0.8, ls=(0, (1, 2)), zorder=2)

for x, y, s, c in fib_wave_labels:
    ax.text(x, y, s, color=c, fontsize=18.2, ha='left', va='center', zorder=2.5)

# fair value gap
ax.add_patch(Rectangle((356.5, 219.9), X_MAX - 356.5, 10.0, facecolor='#ffeb3b', alpha=0.72, lw=0, zorder=3))
ax.text(386.8, 227.6, 'FVG', color='white', fontsize=10.5, ha='center', va='center', zorder=4)

# wedge
wu, wl = np.array(wedge_upper), np.array(wedge_lower)
ax.add_patch(Polygon([wu[0], wu[1], wl[1], wl[0]], closed=True, facecolor=GREEN, alpha=0.14, lw=0, zorder=2))
ax.plot(wu[:, 0], wu[:, 1], color=GREEN, lw=1.5, zorder=3)
ax.plot(wl[:, 0], wl[:, 1], color=GREEN, lw=1.5, zorder=3)

for line in pale_teal:
    ax.plot(*xy(line), color='#8ccfc4', lw=0.9, zorder=3)
for line in pale_red:
    ax.plot(*xy(line), color='#fbb0b3', lw=0.9, zorder=3)
for line in support_teal:
    ax.plot(*xy(line), color='#0b8a75', lw=0.95, zorder=3.2)
for line in support_red + resist_red:
    ax.plot(*xy(line), color='#ff5252', lw=0.95, zorder=3.2)

for line in blue_dots:
    ax.plot(*xy(line), color='#2196f3', lw=1.8, ls=(0, (1, 2.6)), zorder=3.4)
for line in green_dots:
    ax.plot(*xy(line), color=GREEN, lw=1.8, ls=(0, (1, 2.6)), zorder=3.4)
for line in pink_dots:
    ax.plot(*xy(line), color='#f9a5a8', lw=1.8, ls=(0, (1, 2.6)), zorder=3.4)
for line in wave_teal:
    ax.plot(*xy(line), color='#43b59f', lw=1.5, zorder=3.6)
for line in wave_green:
    ax.plot(*xy(line), color='#66b566', lw=1.5, zorder=3.6)
for line in wave_pink:
    ax.plot(*xy(line), color='#f7838a', lw=1.2, zorder=3.6)

px, py = xy(price_points)
ax.plot(px, py, color='#2962ff', lw=2.1, zorder=5, solid_joinstyle='round')

ax.scatter([357.5], [223.6], s=95, color='#26a69a', edgecolors='#0b8a75', lw=0.8, zorder=6)

ax.plot([199.8, X_MAX], [233.25, 233.25], color=RED, lw=1.6, ls=(0, (4.5, 3)), zorder=6)
ax.plot([X_MIN, X_MAX], [142.85, 142.85], color='#ff0000', lw=1.7, zorder=8)

# tags
up_tag = Path([(-1, -1.2), (1, -1.2), (1, 0.5), (0, 1.2), (-1, 0.5), (-1, -1.2)], closed=True)
down_tag = Path([(-1, 1.2), (1, 1.2), (1, -0.5), (0, -1.2), (-1, -0.5), (-1, 1.2)], closed=True)
for x, y, s in teal_tags:
    ax.scatter([x], [y], marker=up_tag, s=380, color='#00897b', lw=0, zorder=4.5)
    ax.text(x, y - 1.2, s, color='white', fontsize=8, fontweight='bold', ha='center', va='center', zorder=4.6)
for x, y, s in red_tags:
    ax.scatter([x], [y], marker=down_tag, s=380, color='#ff5252', lw=0, zorder=4.5)
    ax.text(x, y + 1.2, s, color='white', fontsize=8, fontweight='bold', ha='center', va='center', zorder=4.6)
hx, hy = zip(*green_houses)
ax.scatter(hx, hy, marker=up_tag, s=470, color='#00e676', lw=0, zorder=4.5)
ax.scatter([314.6], [158.7], marker=up_tag, s=2470, color='#00e676', lw=0, zorder=4.4)
ax.text(314.6, 156.7, '⇑', family='DejaVu Sans', color='#333', fontsize=17, ha='center', va='center', zorder=4.6)

for x, y in zip(spring_weeks, spring_prices):
    ax.annotate('', xy=(x, y + 2.8), xytext=(x, y - 2.6),
                arrowprops=dict(arrowstyle='->', color='#0d2a8a', lw=2.3, mutation_scale=19, shrinkA=0, shrinkB=0), zorder=6)

# wave labels
for x, y, s, c in wave_labels:
    ax.text(x, y, s, color=c, fontsize=18.5, ha='center', va='center', zorder=4.2)

ax.text(240.2, 254.9, 'KirkSpano.com', color='#1a3a9e', fontsize=17, fontweight='bold', fontstyle='italic', ha='center', va='center', zorder=6)

box = dict(boxstyle='round,pad=0.55,rounding_size=0.2', facecolor=GREEN, edgecolor='none')
ax.text(405.4, 262.3, 'Rising Wedge', color='white', fontsize=11.7, ha='center', va='center', bbox=box, zorder=7)
ax.text(413.4, 174.6, 'Target', color='white', fontsize=12.3, ha='center', va='center', bbox=box, zorder=7)
ax.add_patch(Polygon([(421, 178.9), (422.5, 180.7), (421, 176.2)], closed=True, facecolor=GREEN, lw=0, zorder=7))

# volume profile, on top of price as on the original
for k, (u, d) in enumerate(zip(vp_up, vp_down)):
    centre = vp_top_price - vp_step * k
    dark = vp_value_area[0] <= k <= vp_value_area[1]
    a = 0.8 if dark else 0.3
    ax.barh(centre, u, height=6.9, left=X_MIN, color='#339ae6', alpha=a, lw=0, zorder=7)
    ax.barh(centre, d, height=6.9, left=X_MIN + u, color='#fac741', alpha=a, lw=0, zorder=7)

# RSI pane
ax_r = pane(14, 1113, 2348, 1289)
setup(ax_r)
ax_r.set_ylim(13.4, 99.7)
ax_r.set_yticks([75, 50, 25])
ax_r.axhspan(30, 70, color='#fffde7', lw=0, zorder=0.5)
ax_r.axhline(70, color='#e53935', lw=1, ls=(0, (3, 3)), zorder=2)
ax_r.axhline(30, color='#388e3c', lw=1, ls=(0, (3, 3)), zorder=2)
ax_r.plot(*xy(rsi_points), color='#1a3a9e', lw=1.05, zorder=3)

# oscillator pane
ax_o = pane(14, 1289, 2348, 1470)
setup(ax_o)
ax_o.set_ylim(-16.8, 117.3)
ax_o.set_yticks([80, 40, 0])
ax_o.set_yticklabels(['80.00', '40.00', '0.000'])
for level in (80, 20):
    ax_o.axhline(level, color='#d5d6d9', lw=1, ls=(0, (3, 3)), zorder=1)

wx, wy = xy(hyperwave)
grid_w = np.arange(wx[0], wx[-1] + 0.01, 0.25)
line_w = np.interp(grid_w, wx, wy)
lag_w = np.interp(grid_w - 4, wx, wy)
turns = np.array(sorted(wave_turns_down + wave_turns_up))
rising = np.searchsorted(turns, grid_w) % 2 == 0
ax_o.fill_between(grid_w, line_w, lag_w, where=rising, color=GREEN, alpha=0.18, lw=0, zorder=1.5)
ax_o.fill_between(grid_w, line_w, lag_w, where=~rising, color='#787b86', alpha=0.2, lw=0, zorder=1.5)

fx, fy = xy(money_flow)
grid_f = np.arange(fx[0], fx[-1] + 0.01, 0.25)
flow = np.interp(grid_f, fx, fy)
ax_o.fill_between(grid_f, flow, 50, where=flow >= 50, interpolate=True, color=TEAL, alpha=0.6, lw=0, zorder=2)
ax_o.fill_between(grid_f, flow, 50, where=flow <= 50, interpolate=True, color=RED, alpha=0.55, lw=0, zorder=2)
for part in strong_up:
    sx, sy = xy(part)
    ax_o.fill_between(sx, sy, 50, color=TEAL, lw=0, alpha=0.9, zorder=2.2)
for part in strong_down:
    sx, sy = xy(part)
    ax_o.fill_between(sx, sy, 50, color=RED, lw=0, alpha=0.85, zorder=2.2)
ax_o.axhline(50, xmax=(417.5 - X_MIN) / (X_MAX - X_MIN), color='#f77c80', lw=1.7, zorder=2.4)

ax_o.plot(grid_w, line_w, color='#9598a1', lw=1.1, zorder=3)
ax_o.plot(grid_w, np.ma.masked_where(~rising, line_w), color=GREEN, lw=1.1, zorder=3.1)
ax_o.scatter(wave_turns_up, np.interp(wave_turns_up, wx, wy), s=28, color=GREEN, lw=0, zorder=4)
ax_o.scatter(wave_turns_down, np.interp(wave_turns_down, wx, wy), s=34, color='#9598a1', lw=0, zorder=4)
for line in trend_teal:
    ax_o.plot(*xy(line), color=TEAL, lw=1.3, zorder=3.5)
for line in trend_red:
    ax_o.plot(*xy(line), color=RED, lw=1.3, zorder=3.5)

top_colors = {'d': TEAL, 'l': '#7fcdbf', 'g': '#dfe0e3'}
bottom_colors = {'r': RED, 'l': '#f7989f', 'g': '#dfe0e3'}
for a, b, s in zip(top_edges[:-1], top_edges[1:], top_states):
    ax_o.add_patch(Rectangle((a, 100), b - a, 5.4, facecolor=top_colors[s], lw=0, zorder=2))
for a, b, s in zip(bottom_edges[:-1], bottom_edges[1:], bottom_states):
    ax_o.add_patch(Rectangle((a, -5), b - a, 5.4, facecolor=bottom_colors[s], lw=0, zorder=2))

ax_o.scatter(red_dot_weeks, [109.9] * len(red_dot_weeks), s=11, color=RED, alpha=0.85, lw=0, zorder=4)
ax_o.scatter(red_tri_weeks, [114] * len(red_tri_weeks), s=48, marker='v', color=RED, alpha=0.85, lw=0, zorder=4)
ax_o.scatter(teal_dot_weeks, [-10] * len(teal_dot_weeks), s=11, color='#26a69a', lw=0, zorder=4)
ax_o.scatter(teal_tri_weeks, [-14] * len(teal_tri_weeks), s=48, marker='^', color='#26a69a', lw=0, zorder=4)

ax_o.set_xticklabels(tick_names)
ax_o.tick_params(axis='x', labelsize=11.9, pad=11)
for lab, name in zip(ax_o.get_xticklabels(), tick_names):
    if name != 'Jul':
        lab.set_fontweight('bold')

# everything in pixel space on top: captions, price boxes, pane borders
top = fig.add_axes([0, 0, 1, 1], zorder=20)
top.set_xlim(0, W)
top.set_ylim(H, 0)
top.axis('off')
top.patch.set_alpha(0)

top.plot([14, 2423], [1113, 1113], color='#6a94f5', lw=1.2)
top.plot([14, 2423], [1289, 1289], color='#6a94f5', lw=1.2)

top.text(14, 21, 'Kirk_Spano created with TradingView.com, Jan 10, 2026 17:48 UTC', color='#d1d4dc', fontsize=12.1, va='center')
legend_lines = ['iShares Russell 2000 ETF · 1W · NYSE Arca', 'VRVP', 'Institutional FVG & Liquidity Range Candle (Expo)',
                'Wyckoff Springs [QuantVue]', 'LuxAlgo - SuperTrend AI', 'Linear Regression Channel', 'US Recessions (NBER)',
                'All Chart Patterns', 'Elliott Wave', 'Vol']
for i, s in enumerate(legend_lines):
    top.text(25, 59 + 24 * i, s, color=TEXT, fontsize=11.7 if i == 0 else 12.3, va='center')
top.text(351, 59, '260.22', color=TEAL, fontsize=11.7, va='center')
top.text(411, 59, '+11.44 (+4.60%)', color=TEAL, fontsize=11.7, va='center')
top.text(541, 59, 'Vol', color=TEXT, fontsize=11.7, va='center')
top.text(564, 59, '223.37M', color=TEAL, fontsize=11.7, va='center')
top.text(25, 1134, 'RSI', color=TEXT, fontsize=12.3, va='center')
top.text(25, 1311, 'LuxAlgo® - Oscillator Matrix™ [7.1]', color=TEXT, fontsize=12.3, va='center')

for label, yc, c in [('260.22', 371, TEAL), ('233.25', 478, RED)]:
    top.add_patch(Rectangle((2349, yc - 12), 70, 24, facecolor=c, lw=0))
    top.text(2384, yc, label, color='white', fontsize=11.7, fontweight='bold', ha='center', va='center')

# footer logo
logo = '#d1d4dc'
top.add_patch(Polygon([(17, 1541), (37, 1541), (37, 1562), (28, 1562), (28, 1551), (17, 1551)], closed=True, facecolor=logo, lw=0))
top.add_patch(Rectangle((39, 1541), 5, 5, facecolor=logo, lw=0))
top.add_patch(Polygon([(47, 1541), (59, 1541), (50, 1562), (38, 1562)], closed=True, facecolor=logo, lw=0))
top.text(68, 1552, 'TradingView', color=logo, fontsize=21.8, fontweight='bold', va='center')

fig.savefig('out.png', dpi=100, facecolor=fig.get_facecolor())
